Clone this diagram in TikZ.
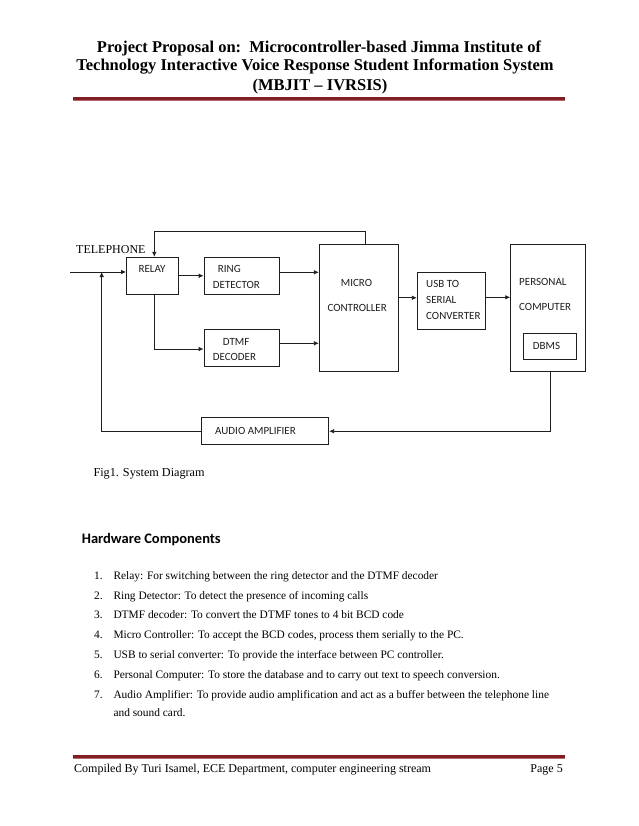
\documentclass[tikz,border=0pt]{standalone}
\usepackage{fontspec}
\setmainfont{Liberation Serif}
\newfontfamily\calfont{Carlito}
\usetikzlibrary{arrows.meta,calc}
\definecolor{rulered}{RGB}{128,30,35}
\definecolor{rulelight}{RGB}{175,110,110}
\definecolor{ink}{RGB}{30,30,30}
\tikzset{
  blk/.style={draw=ink, line width=0.8pt, inner sep=0pt, minimum width=#1},
  bh/.style={minimum height=#1},
  arr/.style={draw=ink, line width=0.8pt, -{Latex[length=5pt,width=4.5pt]}},
  lbl/.style={font=\calfont\fontsize{11}{12}\selectfont, inner sep=0pt, anchor=west, text=ink},
  ttl/.style={font=\bfseries\fontsize{16.5}{18}\selectfont, inner sep=0pt},
  item/.style={font=\fontsize{11.4}{13}\selectfont, inner sep=0pt, anchor=base west},
  foot/.style={font=\fontsize{12}{14}\selectfont, inner sep=0pt},
}
\begin{document}
\begin{tikzpicture}[x=1pt,y=-1pt]
\useasboundingbox[fill=white] (0,0) rectangle (638,826);
% header
\node[ttl] (t1) at (319,48) {Project Proposal on:\ \ Microcontroller-based Jimma Institute of};
\node[ttl] (t2) at (315,67) {Technology Interactive Voice Response Student Information System};
\node[ttl] (t3) at (320,87) {(MBJIT -- IVRSIS)};
\draw[rulered, line width=3pt] (73,98.5) -- (565,98.5);
\draw[rulelight, line width=1pt] (73,100.5) -- (565,100.5);
% diagram boxes
\node[blk=51.8, bh=37] (relay) at (152.4,275.8) {};
\node[blk=75.3, bh=37] (ring) at (241.7,275.8) {};
\node[blk=75.3, bh=37.4] (dtmf) at (241.7,348) {};
\node[blk=79, bh=127.7] (micro) at (358.8,307.8) {};
\node[blk=68, bh=57] (usb) at (451.3,300.8) {};
\node[blk=75, bh=127.7] (pc) at (548.2,307.8) {};
\node[blk=52.7, bh=26] (dbms) at (549.7,346.3) {};
\node[blk=127, bh=27] (audio) at (265.2,431.2) {};
% labels
\node[font=\fontsize{12}{14}\selectfont, inner sep=0pt, anchor=west] (tel) at (76,249.5) {TELEPHONE};
\node[lbl, anchor=center] (relayT) at (152,268.5) {RELAY};
\node[lbl] (ringT1) at (217.7,268.7) {RING};
\node[lbl] (ringT2) at (212.7,285.3) {DETECTOR};
\node[lbl] (dtmfT1) at (222.7,341.7) {DTMF};
\node[lbl] (dtmfT2) at (212.7,356.7) {DECODER};
\node[lbl] (microT1) at (340.7,282.5) {MICRO};
\node[lbl] (microT2) at (327.3,308.3) {CONTROLLER};
\node[lbl] (usbT1) at (426,284) {USB TO};
\node[lbl] (usbT2) at (426,300) {SERIAL};
\node[lbl] (usbT3) at (426,315.7) {CONVERTER};
\node[lbl] (pcT1) at (519,282) {PERSONAL};
\node[lbl] (pcT2) at (519,307) {COMPUTER};
\node[lbl, anchor=center] (dbmsT) at (546.5,345.5) {DBMS};
\node[lbl] (audioT) at (215,430.5) {AUDIO AMPLIFIER};
% connectors
\coordinate (in) at (70,272);
\coordinate (junc) at (101.7,272);
\draw[arr] (in) -- (in -| relay.west);
\draw[arr] (relay.east) -- (ring.west);
\coordinate (fbA) at ($(micro.north)+(7,0)$);
\coordinate (fbTop) at (154.3,231);
\draw[arr] (fbA) |- (fbTop) -- (fbTop |- relay.north);
\draw[arr] ([xshift=2pt]relay.south) |- ([yshift=-1pt]dtmf.west);
\draw[arr] ([yshift=3.5pt]ring.east) -- ([yshift=3.5pt]ring.east -| micro.west);
\draw[arr] ([yshift=4.7pt]dtmf.east) -- ([yshift=4.7pt]dtmf.east -| micro.west);
\draw[arr] ([yshift=3pt]usb.west -| micro.east) -- ([yshift=3pt]usb.west);
\draw[arr] ([yshift=3.5pt]usb.east) -- ([yshift=3.5pt]usb.east -| pc.west);
\draw[arr] ([xshift=2pt]pc.south) |- (audio.east);
\draw[arr] (audio.west) -| (junc);
% caption
\node[font=\fontsize{12.2}{14}\selectfont, inner sep=0pt, anchor=west] (cap) at (93.3,474) {Fig1. System Diagram};
% hardware components
\node[font=\calfont\bfseries\fontsize{14.5}{16}\selectfont, inner sep=0pt, anchor=west] (hw) at (81.7,540) {Hardware Components};
\node[item] (n1) at (94,579) {1.};
\node[item] (i1) at (113.3,579) {Relay: For switching between the ring detector and the DTMF decoder};
\node[item] (n2) at (94,599) {2.};
\node[item] (i2) at (113.3,599) {Ring Detector: To detect the presence of incoming calls};
\node[item] (n3) at (94,618.5) {3.};
\node[item] (i3) at (113.3,618.5) {DTMF decoder: To convert the DTMF tones to 4 bit BCD code};
\node[item] (n4) at (94,638.3) {4.};
\node[item] (i4) at (113.3,638.3) {Micro Controller: To accept the BCD codes, process them serially to the PC.};
\node[item] (n5) at (94,658.3) {5.};
\node[item] (i5) at (113.3,658.3) {USB to serial converter: To provide the interface between PC controller.};
\node[item] (n6) at (94,678.6) {6.};
\node[item] (i6) at (113.3,678.6) {Personal Computer: To store the database and to carry out text to speech conversion.};
\node[item] (n7) at (94,698.3) {7.};
\node[item] (i7) at (113.3,698.3) {Audio Amplifier: To provide audio amplification and act as a buffer between the telephone line};
\node[item] (i7b) at (113.3,716.7) {and sound card.};
% footer
\draw[rulered, line width=3pt] (73,756.5) -- (565,756.5);
\draw[rulelight, line width=1pt] (73,758.5) -- (565,758.5);
\node[foot, anchor=west] (ft) at (74,769.5) {Compiled By Turi Isamel, ECE Department, computer engineering stream};
\node[foot, anchor=east] (pg) at (563,769.5) {Page 5};
\end{tikzpicture}
\end{document}
